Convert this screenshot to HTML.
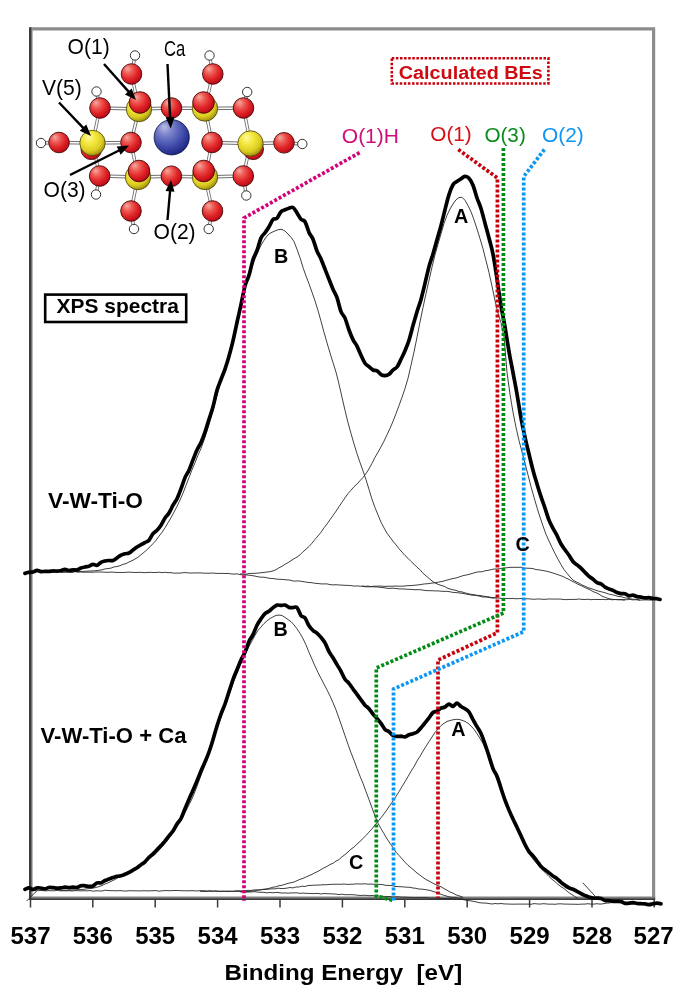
<!DOCTYPE html>
<html><head><meta charset="utf-8"><title>XPS spectra</title>
<style>
html,body{margin:0;padding:0;background:#fff;}
svg{display:block;}
text{font-family:"Liberation Sans",sans-serif;}
.b{font-weight:bold;}
.thin{fill:none;stroke:#2a2a2a;stroke-width:0.9;}
.thick{fill:none;stroke:#000;stroke-width:3.7;stroke-linejoin:round;stroke-linecap:round;}
.dot{fill:none;stroke-width:3.7;stroke-dasharray:3 2;}
</style></head><body>
<svg width="684" height="1000" viewBox="0 0 684 1000">
<rect width="684" height="1000" fill="#fff"/>
<!-- frame -->
<path d="M31,28.8 H653.6 V899" fill="none" stroke="#8c8c8c" stroke-width="3.2"/>
<line x1="31" y1="897.5" x2="655.2" y2="897.5" stroke="#808080" stroke-width="2"/>
<line x1="31.4" y1="27.2" x2="31.4" y2="899" stroke="#9a9a9a" stroke-width="2.6"/>
<line x1="30.2" y1="27.2" x2="30.2" y2="900" stroke="#3c3c3c" stroke-width="2.4"/>
<line x1="29" y1="899.1" x2="655.2" y2="899.1" stroke="#3a3a3a" stroke-width="1.9"/>
<!-- ticks -->
<g stroke="#3a3a3a" stroke-width="1.5">
<line x1="30.5" y1="899" x2="30.5" y2="907.5"/><line x1="92.8" y1="899" x2="92.8" y2="907.5"/><line x1="155.2" y1="899" x2="155.2" y2="907.5"/><line x1="217.6" y1="899" x2="217.6" y2="907.5"/><line x1="280" y1="899" x2="280" y2="907.5"/><line x1="342.4" y1="899" x2="342.4" y2="907.5"/><line x1="404.8" y1="899" x2="404.8" y2="907.5"/><line x1="467.2" y1="899" x2="467.2" y2="907.5"/><line x1="529.6" y1="899" x2="529.6" y2="907.5"/><line x1="592" y1="899" x2="592" y2="907.5"/><line x1="654.2" y1="899" x2="654.2" y2="907.5"/>
</g>
<g class="b" font-size="24" text-anchor="middle">
<text x="30.5" y="943.6">537</text><text x="92.8" y="943.6">536</text><text x="155.2" y="943.6">535</text><text x="217.6" y="943.6">534</text><text x="280" y="943.6">533</text><text x="342.4" y="943.6">532</text><text x="404.8" y="943.6">531</text><text x="467.2" y="943.6">530</text><text x="529.6" y="943.6">529</text><text x="592" y="943.6">528</text><text x="653.6" y="943.6">527</text>
</g>
<text class="b" x="224.6" y="980.3" font-size="22.2" xml:space="preserve" textLength="237.6" lengthAdjust="spacingAndGlyphs">Binding Energy  [eV]</text>
<!-- curves -->
<path class="thin" d="M30.0,571.6 L33.0,572.0 L36.0,571.6 L39.0,571.9 L42.0,572.1 L45.0,572.4 L48.0,571.9 L51.0,572.0 L54.0,572.0 L57.0,572.1 L60.0,571.8 L63.0,572.1 L66.0,571.9 L69.0,572.2 L72.0,572.3 L75.0,571.7 L78.0,572.2 L81.0,572.0 L84.0,572.2 L87.0,572.2 L90.0,572.2 L93.0,572.2 L96.0,572.0 L99.0,572.0 L102.0,572.0 L105.0,572.2 L108.0,572.3 L111.0,572.1 L114.0,572.2 L117.0,572.5 L120.0,572.4 L123.0,572.5 L126.0,572.3 L129.0,572.1 L132.0,572.3 L135.0,572.5 L138.0,572.4 L141.0,572.3 L144.0,572.7 L147.0,572.5 L150.0,572.3 L153.0,572.5 L156.0,572.5 L159.0,572.2 L162.0,572.6 L165.0,572.3 L168.0,572.7 L171.0,572.6 L174.0,573.2 L177.0,573.1 L180.0,573.1 L183.0,572.7 L186.0,572.6 L189.0,573.0 L192.0,573.0 L195.0,572.9 L198.0,572.9 L201.0,572.9 L204.0,573.2 L207.0,573.2 L210.0,573.2 L213.0,573.0 L216.0,573.4 L219.0,573.4 L222.0,573.4 L225.0,573.5 L228.0,573.4 L231.0,573.9 L234.0,574.1 L237.0,573.8 L240.0,574.6 L243.0,574.9 L246.0,574.9 L249.0,575.2 L252.0,575.6 L255.0,576.1 L258.0,576.8 L261.0,577.2 L264.0,577.2 L267.0,577.8 L270.0,578.4 L273.0,578.5 L276.0,579.0 L279.0,579.3 L282.0,579.4 L285.0,579.7 L288.0,579.9 L291.0,580.3 L294.0,581.2 L297.0,580.9 L300.0,581.1 L303.0,581.6 L306.0,582.1 L309.0,582.5 L312.0,582.7 L315.0,583.3 L318.0,583.5 L321.0,583.9 L324.0,583.9 L327.0,583.9 L330.0,584.6 L333.0,584.9 L336.0,584.7 L339.0,585.0 L342.0,585.1 L345.0,585.3 L348.0,585.4 L351.0,585.6 L354.0,586.1 L357.0,585.9 L360.0,586.2 L363.0,586.4 L366.0,586.8 L369.0,586.8 L372.0,586.7 L375.0,586.9 L378.0,587.0 L381.0,587.5 L384.0,587.7 L387.0,588.3 L390.0,588.4 L393.0,588.2 L396.0,588.5 L399.0,588.9 L402.0,588.9 L405.0,589.1 L408.0,589.3 L411.0,589.4 L414.0,589.7 L417.0,589.7 L420.0,589.7 L423.0,590.1 L426.0,590.6 L429.0,590.7 L432.0,590.7 L435.0,590.9 L438.0,590.9 L441.0,591.2 L444.0,591.4 L447.0,591.3 L450.0,591.8 L453.0,592.4 L456.0,592.6 L459.0,592.9 L462.0,593.3 L465.0,593.8 L468.0,594.4 L471.0,595.0 L474.0,595.3 L477.0,595.6 L480.0,596.3 L483.0,597.0 L486.0,597.0 L489.0,597.4 L492.0,598.0 L495.0,597.9 L498.0,597.9 L501.0,598.4 L504.0,598.3 L507.0,598.5 L510.0,598.6 L513.0,598.4 L516.0,598.8 L519.0,598.6 L522.0,598.5 L525.0,598.8 L528.0,598.8 L531.0,599.0 L534.0,599.3 L537.0,599.0 L540.0,599.0 L543.0,599.3 L546.0,599.3 L549.0,598.9 L552.0,599.1 L555.0,599.0 L558.0,599.1 L561.0,599.1 L564.0,599.6 L567.0,599.6 L570.0,599.4 L573.0,599.4 L576.0,599.4 L579.0,599.0 L582.0,599.4 L585.0,599.5 L588.0,599.2 L591.0,599.7 L594.0,599.4 L597.0,599.5 L600.0,599.5 L603.0,599.4 L606.0,599.7 L609.0,599.2 L612.0,599.8 L615.0,599.5 L618.0,599.8 L621.0,599.5 L624.0,599.7 L627.0,599.7 L630.0,599.4 L633.0,599.9 L636.0,599.7 L639.0,600.2 L642.0,600.0 L645.0,599.9 L648.0,600.0 L651.0,600.1 L653.0,599.9"/>
<path class="thin" d="M60.0,572.2 L63.0,572.1 L66.0,572.2 L69.0,571.8 L72.0,572.3 L75.0,571.4 L78.0,571.5 L81.0,571.6 L84.0,571.3 L87.0,571.2 L90.0,571.0 L93.0,570.9 L96.0,570.7 L99.0,570.3 L102.0,569.8 L105.0,568.9 L108.0,568.6 L111.0,568.1 L114.0,566.9 L117.0,566.5 L120.0,565.7 L123.0,564.3 L126.0,563.6 L129.0,562.0 L132.0,560.7 L135.0,559.0 L138.0,557.3 L141.0,554.7 L144.0,552.3 L147.0,549.7 L150.0,546.8 L153.0,543.6 L156.0,540.3 L159.0,536.2 L162.0,532.3 L165.0,527.8 L168.0,522.8 L171.0,517.7 L174.0,512.1 L177.0,506.3 L180.0,500.0 L183.0,493.2 L186.0,485.3 L189.0,477.6 L192.0,469.8 L195.0,462.8 L198.0,455.2 L201.0,448.5 L204.0,440.1 L207.0,431.0 L210.0,420.6 L213.0,410.1 L216.0,398.9 L219.0,388.2 L222.0,378.2 L225.0,369.3 L228.0,359.8 L231.0,348.9 L234.0,336.6 L237.0,322.8 L240.0,309.0 L243.0,296.6 L246.0,286.4 L249.0,276.1 L252.0,266.8 L255.0,258.8 L258.0,251.6 L261.0,245.2 L264.0,240.3 L267.0,235.9 L270.0,233.3 L273.0,231.8 L276.0,230.5 L279.0,229.5 L282.0,229.4 L285.0,231.1 L288.0,234.0 L291.0,237.3 L294.0,241.5 L297.0,249.3 L300.0,257.7 L303.0,267.5 L306.0,276.0 L309.0,283.8 L312.0,292.2 L315.0,300.9 L318.0,310.5 L321.0,321.2 L324.0,332.3 L327.0,342.8 L330.0,352.9 L333.0,362.6 L336.0,372.1 L339.0,384.1 L342.0,397.3 L345.0,410.3 L348.0,422.6 L351.0,433.5 L354.0,443.9 L357.0,453.7 L360.0,462.5 L363.0,470.8 L366.0,479.7 L369.0,489.4 L372.0,499.3 L375.0,507.6 L378.0,514.9 L381.0,522.2 L384.0,527.9 L387.0,533.2 L390.0,537.2 L393.0,541.3 L396.0,544.9 L399.0,548.8 L402.0,552.1 L405.0,555.5 L408.0,558.3 L411.0,561.4 L414.0,564.2 L417.0,567.2 L420.0,569.8 L423.0,573.2 L426.0,575.9 L429.0,578.4 L432.0,581.0 L435.0,582.9 L438.0,584.3 L441.0,585.4 L444.0,586.2 L447.0,588.0 L450.0,589.0 L453.0,589.8 L456.0,590.4 L459.0,591.6 L462.0,591.9 L465.0,592.9 L468.0,593.7 L471.0,594.3 L474.0,594.7 L477.0,595.3 L480.0,595.5 L483.0,596.1 L486.0,596.6 L489.0,596.9 L492.0,597.7 L495.0,597.7 L497.0,598.0"/>
<path class="thin" d="M240.0,573.9 L243.0,574.0 L246.0,574.2 L249.0,573.5 L252.0,573.4 L255.0,573.3 L258.0,573.1 L261.0,572.7 L264.0,572.4 L267.0,572.0 L270.0,571.7 L273.0,570.9 L276.0,569.7 L279.0,567.8 L282.0,566.3 L285.0,564.3 L288.0,562.6 L291.0,560.7 L294.0,558.7 L297.0,557.1 L300.0,554.8 L303.0,551.8 L306.0,549.2 L309.0,546.5 L312.0,543.2 L315.0,539.4 L318.0,535.9 L321.0,532.3 L324.0,527.9 L327.0,524.0 L330.0,519.7 L333.0,515.5 L336.0,511.2 L339.0,506.7 L342.0,502.2 L345.0,497.8 L348.0,493.6 L351.0,490.2 L354.0,486.7 L357.0,484.1 L360.0,480.7 L363.0,477.5 L366.0,473.5 L369.0,468.8 L372.0,463.3 L375.0,457.4 L378.0,452.2 L381.0,446.9 L384.0,441.1 L387.0,434.8 L390.0,428.4 L393.0,421.3 L396.0,413.7 L399.0,405.6 L402.0,397.3 L405.0,388.5 L408.0,378.3 L411.0,365.3 L414.0,352.0 L417.0,337.3 L420.0,322.1 L423.0,307.5 L426.0,293.6 L429.0,280.3 L432.0,267.0 L435.0,254.8 L438.0,244.1 L441.0,233.8 L444.0,223.5 L447.0,215.3 L450.0,209.0 L453.0,204.0 L456.0,199.8 L459.0,197.5 L462.0,197.3 L465.0,200.3 L468.0,205.6 L471.0,211.7 L474.0,219.8 L477.0,229.0 L480.0,238.6 L483.0,248.8 L486.0,260.7 L489.0,272.5 L492.0,286.1 L495.0,300.5 L498.0,313.2 L501.0,322.7 L504.0,336.9 L507.0,372.4 L510.0,394.2 L513.0,412.3 L516.0,427.3 L519.0,440.5 L522.0,451.9 L525.0,463.4 L528.0,474.9 L531.0,486.6 L534.0,497.3 L537.0,507.6 L540.0,517.1 L543.0,526.0 L546.0,534.3 L549.0,541.0 L552.0,547.3 L555.0,553.5 L558.0,559.2 L561.0,564.6 L564.0,569.5 L567.0,573.3 L570.0,577.0 L573.0,580.0 L576.0,581.8 L579.0,583.1 L582.0,585.1 L585.0,586.2 L588.0,587.7 L591.0,588.5 L594.0,589.6 L597.0,590.7 L600.0,591.5 L603.0,592.2 L606.0,593.0 L609.0,594.2 L612.0,594.7 L615.0,595.4 L618.0,596.4 L621.0,596.6 L624.0,597.7 L627.0,598.2 L630.0,598.8 L633.0,599.2 L636.0,599.5 L639.0,599.6 L640.0,600.2"/>
<path class="thin" d="M362.0,586.0 L365.0,586.3 L368.0,586.1 L371.0,586.6 L374.0,586.2 L377.0,586.2 L380.0,586.0 L383.0,586.3 L386.0,586.4 L389.0,586.2 L392.0,586.3 L395.0,586.0 L398.0,586.2 L401.0,586.2 L404.0,586.1 L407.0,585.7 L410.0,585.6 L413.0,585.4 L416.0,585.1 L419.0,584.8 L422.0,584.3 L425.0,583.9 L428.0,583.7 L431.0,583.2 L434.0,582.9 L437.0,582.4 L440.0,581.8 L443.0,581.3 L446.0,580.3 L449.0,579.6 L452.0,578.7 L455.0,578.2 L458.0,577.4 L461.0,576.3 L464.0,575.4 L467.0,574.9 L470.0,574.1 L473.0,573.2 L476.0,572.3 L479.0,571.8 L482.0,571.8 L485.0,570.8 L488.0,570.4 L491.0,569.7 L494.0,569.0 L497.0,569.0 L500.0,568.7 L503.0,568.0 L506.0,567.8 L509.0,567.5 L512.0,567.3 L515.0,567.3 L518.0,567.4 L521.0,567.2 L524.0,568.1 L527.0,568.2 L530.0,568.3 L533.0,568.6 L536.0,569.6 L539.0,569.8 L542.0,570.4 L545.0,570.9 L548.0,571.6 L551.0,572.4 L554.0,573.4 L557.0,574.4 L560.0,575.4 L563.0,576.5 L566.0,578.1 L569.0,579.4 L572.0,581.1 L575.0,582.6 L578.0,584.3 L581.0,585.5 L584.0,587.1 L587.0,588.5 L590.0,589.7 L593.0,591.6 L596.0,592.7 L599.0,594.1 L602.0,596.2 L605.0,597.3 L608.0,598.4 L611.0,599.2 L614.0,599.5 L617.0,599.5 L620.0,599.7 L623.0,600.0 L625.0,600.0"/>
<path class="thick" d="M25.0,573.4 C25.7,573.2 27.7,572.6 29.0,572.3 C30.3,572.1 31.7,572.3 33.0,572.0 C34.3,571.7 35.7,570.5 37.0,570.4 C38.3,570.3 39.7,571.4 41.0,571.6 C42.3,571.7 43.7,571.4 45.0,571.4 C46.3,571.4 47.7,571.5 49.0,571.4 C50.3,571.4 51.7,570.9 53.0,570.9 C54.3,570.8 55.7,571.2 57.0,571.1 C58.3,571.1 59.7,570.8 61.0,570.6 C62.3,570.3 63.7,569.5 65.0,569.4 C66.3,569.4 67.7,570.5 69.0,570.5 C70.3,570.6 71.7,569.9 73.0,569.8 C74.3,569.7 75.7,570.2 77.0,569.9 C78.3,569.6 79.7,568.5 81.0,568.0 C82.3,567.5 83.7,567.3 85.0,567.0 C86.3,566.7 87.7,566.6 89.0,566.2 C90.3,565.7 91.7,564.5 93.0,564.4 C94.3,564.2 95.7,565.6 97.0,565.3 C98.3,564.9 99.7,563.1 101.0,562.3 C102.3,561.6 103.7,561.3 105.0,561.0 C106.3,560.7 107.7,560.6 109.0,560.5 C110.3,560.4 111.7,560.9 113.0,560.5 C114.3,560.0 115.7,558.8 117.0,557.9 C118.3,557.0 119.7,555.9 121.0,555.2 C122.3,554.5 123.7,554.2 125.0,553.8 C126.3,553.4 127.7,553.6 129.0,553.0 C130.3,552.3 131.7,551.0 133.0,550.0 C134.3,549.0 135.7,547.9 137.0,547.0 C138.3,546.1 139.7,545.4 141.0,544.7 C142.3,543.9 143.7,543.2 145.0,542.5 C146.3,541.7 147.7,541.7 149.0,540.2 C150.3,538.8 151.7,535.4 153.0,533.7 C154.3,532.1 155.7,531.6 157.0,530.2 C158.3,528.8 159.7,527.2 161.0,525.2 C162.3,523.2 163.7,520.1 165.0,518.0 C166.3,516.0 167.7,515.2 169.0,513.0 C170.3,510.9 171.7,507.6 173.0,505.2 C174.3,502.8 175.7,501.5 177.0,498.8 C178.3,496.0 179.7,492.2 181.0,488.7 C182.3,485.2 183.7,480.7 185.0,477.6 C186.3,474.5 187.7,473.1 189.0,470.2 C190.3,467.2 191.7,463.2 193.0,459.8 C194.3,456.4 195.7,452.8 197.0,449.9 C198.3,447.0 199.7,445.4 201.0,442.5 C202.3,439.5 203.7,436.0 205.0,432.1 C206.3,428.3 207.7,423.6 209.0,419.4 C210.3,415.2 211.7,411.6 213.0,406.8 C214.3,401.9 215.7,394.8 217.0,390.3 C218.3,385.7 219.7,383.1 221.0,379.5 C222.3,376.0 223.7,373.0 225.0,369.1 C226.3,365.2 227.7,360.9 229.0,356.2 C230.3,351.5 231.7,346.5 233.0,340.9 C234.3,335.3 235.7,328.6 237.0,322.5 C238.3,316.5 239.7,310.8 241.0,304.7 C242.3,298.6 243.7,290.8 245.0,285.9 C246.3,281.0 247.7,279.7 249.0,275.3 C250.3,271.0 251.7,263.9 253.0,259.8 C254.3,255.6 255.7,254.1 257.0,250.4 C258.3,246.8 259.7,240.8 261.0,237.9 C262.3,235.0 263.7,234.7 265.0,232.8 C266.3,230.9 267.7,228.9 269.0,226.7 C270.3,224.5 271.7,220.9 273.0,219.5 C274.3,218.1 275.7,219.6 277.0,218.3 C278.3,217.0 279.7,213.1 281.0,211.7 C282.3,210.2 283.7,210.4 285.0,209.8 C286.3,209.3 287.7,208.6 289.0,208.2 C290.3,207.8 291.7,206.7 293.0,207.5 C294.3,208.3 295.7,210.9 297.0,212.9 C298.3,214.9 299.7,217.8 301.0,219.3 C302.3,220.7 303.7,219.5 305.0,221.7 C306.3,223.9 307.7,229.4 309.0,232.4 C310.3,235.3 311.7,236.1 313.0,239.2 C314.3,242.3 315.7,247.8 317.0,251.1 C318.3,254.4 319.7,255.9 321.0,258.9 C322.3,261.9 323.7,265.7 325.0,269.1 C326.3,272.5 327.7,276.0 329.0,279.3 C330.3,282.7 331.7,286.2 333.0,289.2 C334.3,292.3 335.7,293.9 337.0,297.6 C338.3,301.4 339.7,308.2 341.0,311.6 C342.3,315.0 343.7,315.0 345.0,318.1 C346.3,321.1 347.7,326.4 349.0,330.0 C350.3,333.6 351.7,336.9 353.0,339.6 C354.3,342.3 355.7,343.5 357.0,346.1 C358.3,348.7 359.7,352.4 361.0,355.2 C362.3,358.1 363.7,361.3 365.0,363.2 C366.3,365.1 367.7,365.6 369.0,366.7 C370.3,367.9 371.7,369.4 373.0,370.0 C374.3,370.7 375.7,370.0 377.0,370.8 C378.3,371.5 379.7,373.7 381.0,374.6 C382.3,375.4 383.7,375.7 385.0,375.7 C386.3,375.6 387.7,375.2 389.0,374.3 C390.3,373.3 391.7,371.2 393.0,370.0 C394.3,368.8 395.7,368.8 397.0,367.0 C398.3,365.3 399.7,362.0 401.0,359.3 C402.3,356.6 403.7,353.9 405.0,350.7 C406.3,347.5 407.7,344.4 409.0,340.2 C410.3,336.0 411.7,330.4 413.0,325.6 C414.3,320.9 415.7,316.1 417.0,311.7 C418.3,307.4 419.7,304.2 421.0,299.4 C422.3,294.7 423.7,288.9 425.0,283.4 C426.3,277.9 427.7,271.5 429.0,266.6 C430.3,261.7 431.7,258.4 433.0,254.0 C434.3,249.5 435.7,244.4 437.0,239.7 C438.3,235.0 439.7,230.7 441.0,225.7 C442.3,220.7 443.7,214.9 445.0,209.7 C446.3,204.5 447.7,198.7 449.0,194.6 C450.3,190.4 451.7,186.9 453.0,184.7 C454.3,182.5 455.7,182.4 457.0,181.4 C458.3,180.4 459.7,179.6 461.0,178.8 C462.3,177.9 463.7,176.4 465.0,176.3 C466.3,176.2 467.7,176.7 469.0,178.2 C470.3,179.6 471.7,182.0 473.0,185.3 C474.3,188.6 475.7,194.1 477.0,198.0 C478.3,201.8 479.7,204.3 481.0,208.5 C482.3,212.7 483.7,218.3 485.0,223.2 C486.3,228.1 487.7,232.8 489.0,238.0 C490.3,243.1 491.7,247.3 493.0,254.1 C494.3,261.0 495.7,270.3 497.0,278.9 C498.3,287.5 499.7,297.6 501.0,305.6 C502.3,313.6 503.7,319.3 505.0,326.9 C506.3,334.6 507.7,344.0 509.0,351.6 C510.3,359.2 511.7,365.5 513.0,372.6 C514.3,379.7 515.7,386.5 517.0,394.1 C518.3,401.7 519.7,410.8 521.0,418.0 C522.3,425.2 523.7,431.3 525.0,437.3 C526.3,443.3 527.7,448.5 529.0,454.0 C530.3,459.5 531.7,465.3 533.0,470.3 C534.3,475.3 535.7,479.5 537.0,483.9 C538.3,488.3 539.7,492.6 541.0,496.6 C542.3,500.7 543.7,504.2 545.0,508.1 C546.3,512.1 547.7,516.8 549.0,520.1 C550.3,523.5 551.7,525.8 553.0,528.3 C554.3,530.9 555.7,532.9 557.0,535.5 C558.3,538.2 559.7,541.7 561.0,544.0 C562.3,546.4 563.7,547.8 565.0,549.7 C566.3,551.6 567.7,553.4 569.0,555.3 C570.3,557.3 571.7,559.9 573.0,561.5 C574.3,563.1 575.7,563.8 577.0,564.9 C578.3,566.0 579.7,566.9 581.0,568.1 C582.3,569.4 583.7,571.0 585.0,572.4 C586.3,573.7 587.7,575.2 589.0,576.3 C590.3,577.5 591.7,578.1 593.0,579.2 C594.3,580.3 595.7,581.9 597.0,582.7 C598.3,583.5 599.7,583.1 601.0,583.8 C602.3,584.5 603.7,586.3 605.0,587.1 C606.3,588.0 607.7,588.5 609.0,589.0 C610.3,589.5 611.7,589.8 613.0,590.4 C614.3,591.0 615.7,592.1 617.0,592.6 C618.3,593.1 619.7,593.4 621.0,593.6 C622.3,593.8 623.7,593.4 625.0,593.7 C626.3,594.1 627.7,595.6 629.0,595.9 C630.3,596.1 631.7,595.0 633.0,595.2 C634.3,595.3 635.7,596.3 637.0,596.6 C638.3,596.9 639.7,596.9 641.0,597.1 C642.3,597.3 643.7,597.8 645.0,597.9 C646.3,598.0 647.7,597.6 649.0,597.7 C650.3,597.8 651.7,598.3 653.0,598.5 C654.3,598.7 655.8,598.6 657.0,598.7 C658.2,598.9 659.5,599.4 660.0,599.5"/>
<path class="thin" d="M30.0,891.0 L33.0,890.6 L36.0,890.7 L39.0,890.6 L42.0,890.5 L45.0,890.8 L48.0,890.7 L51.0,890.7 L54.0,890.8 L57.0,890.4 L60.0,890.8 L63.0,890.8 L66.0,890.8 L69.0,890.7 L72.0,891.0 L75.0,890.6 L78.0,890.7 L81.0,890.9 L84.0,890.7 L87.0,890.9 L90.0,890.5 L93.0,891.2 L96.0,890.8 L99.0,890.9 L102.0,891.0 L105.0,890.2 L108.0,890.5 L111.0,890.7 L114.0,890.7 L117.0,890.8 L120.0,890.6 L123.0,890.9 L126.0,891.1 L129.0,890.7 L132.0,890.8 L135.0,890.8 L138.0,890.9 L141.0,890.9 L144.0,890.7 L147.0,890.9 L150.0,890.8 L153.0,890.7 L156.0,890.6 L159.0,891.2 L162.0,890.8 L165.0,890.6 L168.0,890.6 L171.0,890.7 L174.0,890.5 L177.0,890.5 L180.0,890.6 L183.0,890.8 L186.0,890.8 L189.0,890.8 L192.0,890.6 L195.0,890.9 L198.0,890.9 L201.0,890.7 L204.0,890.7 L207.0,891.0 L210.0,890.7 L213.0,891.1 L216.0,890.9 L219.0,891.2 L222.0,891.1 L225.0,891.3 L228.0,891.6 L231.0,891.4 L234.0,891.4 L237.0,891.4 L240.0,891.5 L243.0,891.8 L246.0,892.1 L249.0,892.0 L252.0,891.9 L255.0,891.7 L258.0,892.2 L261.0,892.3 L264.0,892.3 L267.0,892.9 L270.0,892.4 L273.0,892.8 L276.0,892.4 L279.0,892.6 L282.0,893.1 L285.0,892.9 L288.0,893.2 L291.0,892.9 L294.0,892.9 L297.0,892.8 L300.0,893.4 L303.0,893.0 L306.0,893.4 L309.0,893.4 L312.0,893.6 L315.0,893.5 L318.0,893.4 L321.0,894.0 L324.0,893.5 L327.0,893.7 L330.0,893.8 L333.0,893.9 L336.0,894.1 L339.0,894.6 L342.0,894.2 L345.0,894.7 L348.0,894.7 L351.0,894.6 L354.0,894.8 L357.0,895.1 L360.0,895.5 L363.0,895.3 L366.0,895.3 L369.0,895.7 L372.0,895.5 L375.0,895.8 L378.0,895.8 L381.0,896.3 L384.0,896.4 L387.0,896.5 L390.0,896.5 L393.0,897.0 L396.0,896.8 L399.0,896.8 L402.0,897.2 L405.0,897.1 L408.0,897.4 L411.0,897.4 L414.0,897.8 L417.0,897.6 L420.0,897.6 L423.0,897.6 L426.0,897.6 L429.0,898.0 L432.0,898.1 L435.0,897.9 L438.0,898.4 L441.0,898.4 L444.0,898.5 L447.0,898.5 L450.0,898.5 L453.0,898.8 L456.0,899.0 L459.0,899.4 L462.0,899.4 L465.0,900.0 L468.0,900.5 L471.0,900.9 L474.0,901.5 L477.0,902.1 L480.0,902.8 L483.0,903.0 L486.0,903.1 L489.0,903.6 L492.0,904.0 L495.0,903.5 L498.0,903.8 L501.0,903.5 L504.0,903.9 L507.0,904.0 L510.0,904.1 L513.0,904.2 L516.0,904.1 L519.0,904.1 L522.0,904.1 L525.0,904.1 L528.0,904.1 L531.0,904.3 L534.0,903.6 L537.0,903.9 L540.0,904.1 L543.0,903.7 L546.0,903.9 L549.0,904.2 L552.0,904.1 L555.0,904.3 L558.0,903.9 L561.0,903.8 L564.0,904.1 L567.0,904.1 L570.0,904.2 L573.0,904.2 L576.0,904.3 L579.0,904.3 L582.0,904.1 L585.0,904.1 L588.0,903.7 L591.0,904.1 L594.0,904.1 L597.0,903.7 L600.0,904.1 L603.0,903.8 L606.0,903.2 L609.0,903.0 L612.0,902.5"/>
<path class="thin" d="M60.0,890.5 L63.0,890.2 L66.0,890.5 L69.0,890.3 L72.0,890.0 L75.0,890.0 L78.0,889.6 L81.0,889.5 L84.0,889.3 L87.0,888.8 L90.0,888.5 L93.0,888.1 L96.0,887.5 L99.0,886.6 L102.0,885.5 L105.0,884.0 L108.0,882.9 L111.0,881.4 L114.0,880.0 L117.0,878.3 L120.0,876.8 L123.0,875.7 L126.0,873.8 L129.0,872.7 L132.0,870.6 L135.0,869.1 L138.0,867.2 L141.0,865.1 L144.0,863.3 L147.0,860.8 L150.0,858.5 L153.0,855.9 L156.0,853.6 L159.0,850.1 L162.0,847.0 L165.0,843.2 L168.0,839.3 L171.0,835.4 L174.0,830.9 L177.0,826.4 L180.0,821.3 L183.0,816.0 L186.0,810.8 L189.0,804.8 L192.0,798.8 L195.0,791.5 L198.0,783.6 L201.0,775.0 L204.0,766.8 L207.0,757.5 L210.0,748.8 L213.0,739.7 L216.0,731.0 L219.0,722.9 L222.0,714.4 L225.0,706.3 L228.0,697.7 L231.0,689.7 L234.0,680.9 L237.0,673.3 L240.0,665.6 L243.0,659.3 L246.0,652.9 L249.0,646.4 L252.0,640.9 L255.0,635.3 L258.0,630.3 L261.0,627.1 L264.0,623.5 L267.0,620.8 L270.0,618.5 L273.0,616.9 L276.0,615.4 L279.0,615.1 L282.0,615.5 L285.0,617.4 L288.0,619.5 L291.0,621.7 L294.0,624.9 L297.0,628.8 L300.0,633.3 L303.0,638.6 L306.0,644.9 L309.0,652.4 L312.0,659.2 L315.0,666.1 L318.0,672.6 L321.0,678.3 L324.0,684.1 L327.0,689.9 L330.0,695.9 L333.0,702.7 L336.0,709.9 L339.0,718.3 L342.0,726.9 L345.0,735.7 L348.0,744.4 L351.0,752.8 L354.0,760.3 L357.0,768.4 L360.0,776.2 L363.0,783.4 L366.0,791.6 L369.0,799.6 L372.0,807.8 L375.0,816.0 L378.0,823.2 L381.0,828.7 L384.0,833.7 L387.0,838.8 L390.0,843.3 L393.0,847.5 L396.0,852.1 L399.0,855.4 L402.0,858.8 L405.0,862.2 L408.0,865.3 L411.0,867.8 L414.0,870.3 L417.0,873.0 L420.0,875.2 L423.0,877.4 L426.0,879.6 L429.0,881.0 L432.0,882.7 L435.0,884.4 L438.0,885.8 L441.0,886.7 L444.0,888.6 L447.0,890.2 L450.0,892.0 L453.0,893.1 L456.0,894.8 L459.0,895.8 L462.0,896.8 L463.3,897.8"/>
<path class="thin" d="M240.0,891.8 L243.0,891.9 L246.0,891.5 L249.0,891.5 L252.0,891.0 L255.0,890.8 L258.0,890.1 L261.0,889.6 L264.0,889.2 L267.0,888.8 L270.0,888.1 L273.0,887.2 L276.0,886.8 L279.0,885.7 L282.0,885.3 L285.0,884.3 L288.0,883.4 L291.0,882.7 L294.0,882.1 L297.0,880.7 L300.0,879.3 L303.0,878.4 L306.0,877.0 L309.0,875.6 L312.0,874.4 L315.0,872.7 L318.0,871.4 L321.0,869.6 L324.0,867.8 L327.0,866.4 L330.0,864.5 L333.0,863.3 L336.0,861.1 L339.0,859.6 L342.0,856.8 L345.0,854.6 L348.0,852.0 L351.0,849.1 L354.0,847.1 L357.0,844.1 L360.0,841.4 L363.0,838.5 L366.0,835.4 L369.0,832.1 L372.0,828.9 L375.0,825.0 L378.0,821.6 L381.0,817.7 L384.0,813.9 L387.0,809.7 L390.0,805.1 L393.0,800.9 L396.0,796.3 L399.0,791.7 L402.0,786.6 L405.0,781.7 L408.0,776.6 L411.0,771.3 L414.0,766.7 L417.0,761.0 L420.0,756.4 L423.0,751.1 L426.0,746.3 L429.0,741.7 L432.0,737.0 L435.0,732.4 L438.0,729.0 L441.0,725.6 L444.0,723.3 L447.0,721.5 L450.0,720.5 L453.0,719.8 L456.0,719.3 L459.0,719.4 L462.0,720.3 L465.0,721.4 L468.0,723.2 L471.0,726.0 L474.0,729.3 L477.0,733.7 L480.0,738.4 L483.0,743.6 L486.0,750.5 L489.0,758.3 L492.0,766.1 L495.0,773.9 L498.0,781.5 L501.0,789.4 L504.0,797.2 L507.0,805.3 L510.0,813.1 L513.0,820.5 L516.0,826.9 L519.0,833.7 L522.0,840.3 L525.0,846.8 L528.0,852.2 L531.0,856.3 L534.0,860.4 L537.0,863.9 L540.0,867.1 L543.0,870.4 L546.0,873.5 L549.0,876.5 L552.0,879.3 L555.0,881.6 L558.0,884.4 L561.0,886.7 L564.0,888.5 L567.0,891.2 L570.0,893.4 L573.0,895.3 L576.0,897.4 L578.0,898.0"/>
<path class="thin" d="M200.0,891.4 L203.0,891.4 L206.0,891.5 L209.0,891.2 L212.0,891.4 L215.0,891.1 L218.0,891.4 L221.0,891.5 L224.0,891.3 L227.0,891.1 L230.0,891.1 L233.0,891.2 L236.0,890.8 L239.0,890.7 L242.0,890.9 L245.0,890.7 L248.0,890.3 L251.0,890.5 L254.0,889.9 L257.0,889.9 L260.0,890.0 L263.0,889.5 L266.0,889.4 L269.0,889.1 L272.0,888.8 L275.0,888.9 L278.0,888.2 L281.0,888.5 L284.0,888.5 L287.0,888.1 L290.0,887.5 L293.0,887.9 L296.0,887.0 L299.0,887.0 L302.0,886.2 L305.0,886.5 L308.0,885.5 L311.0,885.4 L314.0,885.2 L317.0,885.1 L320.0,885.0 L323.0,884.7 L326.0,884.8 L329.0,884.5 L332.0,884.3 L335.0,884.3 L338.0,884.2 L341.0,884.3 L344.0,884.0 L347.0,884.4 L350.0,884.3 L353.0,884.2 L356.0,883.9 L359.0,883.9 L362.0,884.0 L365.0,883.8 L368.0,884.2 L371.0,884.0 L374.0,884.3 L377.0,884.2 L380.0,884.4 L383.0,884.7 L386.0,885.4 L389.0,885.4 L392.0,885.6 L395.0,886.4 L398.0,886.6 L401.0,886.7 L404.0,887.0 L407.0,887.2 L410.0,887.3 L413.0,888.0 L416.0,888.3 L419.0,889.0 L422.0,889.2 L425.0,889.5 L428.0,890.0 L431.0,890.7 L434.0,891.8 L437.0,892.7 L440.0,893.9 L443.0,895.0 L446.0,895.9 L449.0,896.8 L452.0,897.3 L455.0,897.3 L458.0,898.1 L461.0,898.3 L463.0,898.1"/>
<path class="thick" d="M25.0,889.3 C25.7,889.0 27.7,887.9 29.0,887.9 C30.3,887.9 31.7,889.4 33.0,889.4 C34.3,889.4 35.7,888.1 37.0,887.9 C38.3,887.6 39.7,887.9 41.0,888.1 C42.3,888.2 43.7,889.0 45.0,888.9 C46.3,888.8 47.7,887.7 49.0,887.5 C50.3,887.3 51.7,887.6 53.0,887.7 C54.3,887.8 55.7,888.1 57.0,888.1 C58.3,888.1 59.7,888.0 61.0,887.8 C62.3,887.7 63.7,887.3 65.0,887.2 C66.3,887.2 67.7,887.6 69.0,887.6 C70.3,887.6 71.7,887.3 73.0,887.2 C74.3,887.2 75.7,887.7 77.0,887.4 C78.3,887.2 79.7,886.0 81.0,885.7 C82.3,885.4 83.7,885.7 85.0,885.8 C86.3,885.9 87.7,886.4 89.0,886.4 C90.3,886.4 91.7,886.6 93.0,886.0 C94.3,885.4 95.7,883.5 97.0,882.9 C98.3,882.4 99.7,883.3 101.0,882.9 C102.3,882.5 103.7,881.2 105.0,880.5 C106.3,879.9 107.7,879.6 109.0,879.1 C110.3,878.6 111.7,878.0 113.0,877.5 C114.3,877.1 115.7,876.6 117.0,876.3 C118.3,876.0 119.7,876.1 121.0,875.8 C122.3,875.5 123.7,874.9 125.0,874.3 C126.3,873.8 127.7,873.1 129.0,872.4 C130.3,871.7 131.7,870.9 133.0,870.1 C134.3,869.3 135.7,868.7 137.0,867.8 C138.3,866.8 139.7,865.6 141.0,864.7 C142.3,863.7 143.7,863.1 145.0,861.9 C146.3,860.7 147.7,858.6 149.0,857.3 C150.3,856.0 151.7,855.1 153.0,853.9 C154.3,852.6 155.7,851.2 157.0,849.8 C158.3,848.4 159.7,847.0 161.0,845.5 C162.3,844.1 163.7,842.7 165.0,841.1 C166.3,839.4 167.7,837.6 169.0,835.9 C170.3,834.3 171.7,833.1 173.0,831.1 C174.3,829.2 175.7,826.1 177.0,824.0 C178.3,821.9 179.7,821.0 181.0,818.5 C182.3,815.9 183.7,811.9 185.0,808.7 C186.3,805.5 187.7,802.3 189.0,799.2 C190.3,796.1 191.7,793.3 193.0,790.3 C194.3,787.2 195.7,784.1 197.0,780.9 C198.3,777.7 199.7,774.2 201.0,771.0 C202.3,767.9 203.7,765.2 205.0,762.0 C206.3,758.8 207.7,755.8 209.0,752.0 C210.3,748.3 211.7,744.0 213.0,739.7 C214.3,735.3 215.7,730.2 217.0,726.0 C218.3,721.7 219.7,717.7 221.0,714.0 C222.3,710.4 223.7,707.7 225.0,704.0 C226.3,700.2 227.7,695.8 229.0,691.7 C230.3,687.7 231.7,683.2 233.0,679.5 C234.3,675.9 235.7,673.0 237.0,669.7 C238.3,666.4 239.7,662.8 241.0,659.9 C242.3,657.0 243.7,655.2 245.0,652.1 C246.3,649.0 247.7,644.3 249.0,641.4 C250.3,638.4 251.7,637.3 253.0,634.6 C254.3,631.9 255.7,627.9 257.0,625.2 C258.3,622.6 259.7,620.8 261.0,618.8 C262.3,616.9 263.7,614.9 265.0,613.6 C266.3,612.4 267.7,612.3 269.0,611.3 C270.3,610.4 271.7,608.7 273.0,607.7 C274.3,606.6 275.7,605.4 277.0,605.1 C278.3,604.7 279.7,605.4 281.0,605.4 C282.3,605.4 283.7,604.8 285.0,605.1 C286.3,605.5 287.7,606.9 289.0,607.4 C290.3,607.8 291.7,607.6 293.0,607.6 C294.3,607.6 295.7,606.2 297.0,607.5 C298.3,608.8 299.7,613.8 301.0,615.6 C302.3,617.3 303.7,616.2 305.0,617.9 C306.3,619.6 307.7,623.7 309.0,625.8 C310.3,627.9 311.7,629.3 313.0,630.5 C314.3,631.8 315.7,631.9 317.0,633.1 C318.3,634.2 319.7,635.8 321.0,637.4 C322.3,639.1 323.7,640.5 325.0,642.9 C326.3,645.2 327.7,649.2 329.0,651.7 C330.3,654.2 331.7,655.7 333.0,657.8 C334.3,660.0 335.7,662.3 337.0,664.6 C338.3,666.8 339.7,668.8 341.0,671.3 C342.3,673.7 343.7,677.3 345.0,679.3 C346.3,681.3 347.7,681.6 349.0,683.3 C350.3,684.9 351.7,687.2 353.0,689.0 C354.3,690.9 355.7,692.6 357.0,694.4 C358.3,696.2 359.7,698.1 361.0,699.9 C362.3,701.7 363.7,703.7 365.0,705.2 C366.3,706.6 367.7,707.2 369.0,708.7 C370.3,710.2 371.7,712.5 373.0,714.1 C374.3,715.7 375.7,716.9 377.0,718.5 C378.3,720.0 379.7,721.6 381.0,723.4 C382.3,725.2 383.7,728.0 385.0,729.4 C386.3,730.8 387.7,730.7 389.0,731.7 C390.3,732.7 391.7,734.7 393.0,735.5 C394.3,736.3 395.7,736.3 397.0,736.4 C398.3,736.5 399.7,736.2 401.0,736.2 C402.3,736.3 403.7,737.1 405.0,736.8 C406.3,736.6 407.7,735.4 409.0,734.8 C410.3,734.3 411.7,734.1 413.0,733.7 C414.3,733.2 415.7,733.1 417.0,732.1 C418.3,731.1 419.7,729.3 421.0,727.8 C422.3,726.2 423.7,724.6 425.0,722.9 C426.3,721.3 427.7,719.5 429.0,717.8 C430.3,716.0 431.7,713.6 433.0,712.5 C434.3,711.4 435.7,711.8 437.0,711.1 C438.3,710.4 439.7,708.9 441.0,708.2 C442.3,707.5 443.7,707.7 445.0,707.0 C446.3,706.3 447.7,704.2 449.0,704.1 C450.3,704.0 451.7,706.5 453.0,706.4 C454.3,706.2 455.7,703.1 457.0,703.1 C458.3,703.2 459.7,705.7 461.0,706.6 C462.3,707.5 463.7,707.8 465.0,708.7 C466.3,709.6 467.7,710.2 469.0,712.0 C470.3,713.8 471.7,717.1 473.0,719.6 C474.3,722.0 475.7,724.4 477.0,726.7 C478.3,729.0 479.7,730.5 481.0,733.4 C482.3,736.3 483.7,740.2 485.0,744.0 C486.3,747.8 487.7,752.0 489.0,756.1 C490.3,760.2 491.7,765.2 493.0,768.6 C494.3,772.0 495.7,773.0 497.0,776.3 C498.3,779.6 499.7,784.2 501.0,788.2 C502.3,792.2 503.7,796.5 505.0,800.2 C506.3,803.8 507.7,806.9 509.0,810.1 C510.3,813.2 511.7,816.2 513.0,819.0 C514.3,821.9 515.7,824.5 517.0,827.3 C518.3,830.1 519.7,832.9 521.0,835.8 C522.3,838.6 523.7,841.8 525.0,844.5 C526.3,847.1 527.7,849.7 529.0,851.6 C530.3,853.5 531.7,854.3 533.0,855.9 C534.3,857.4 535.7,859.2 537.0,861.0 C538.3,862.7 539.7,865.0 541.0,866.4 C542.3,867.9 543.7,868.6 545.0,869.7 C546.3,870.7 547.7,871.7 549.0,872.8 C550.3,873.9 551.7,875.1 553.0,876.1 C554.3,877.0 555.7,877.6 557.0,878.6 C558.3,879.7 559.7,881.2 561.0,882.3 C562.3,883.4 563.7,884.4 565.0,885.3 C566.3,886.2 567.7,887.2 569.0,887.9 C570.3,888.6 571.7,888.7 573.0,889.3 C574.3,889.9 575.7,890.6 577.0,891.3 C578.3,892.0 579.7,892.9 581.0,893.6 C582.3,894.3 583.7,894.9 585.0,895.5 C586.3,896.0 587.7,896.4 589.0,896.9 C590.3,897.3 591.7,897.8 593.0,898.0 C594.3,898.1 595.7,897.9 597.0,898.0 C598.3,898.1 599.7,898.0 601.0,898.4 C602.3,898.8 603.7,900.1 605.0,900.5 C606.3,900.9 607.7,900.5 609.0,900.7 C610.3,900.8 611.7,901.2 613.0,901.3 C614.3,901.4 615.7,901.3 617.0,901.4 C618.3,901.4 619.7,901.3 621.0,901.6 C622.3,902.0 623.7,903.1 625.0,903.4 C626.3,903.6 627.7,903.3 629.0,903.2 C630.3,903.1 631.7,902.6 633.0,902.6 C634.3,902.7 635.7,903.3 637.0,903.5 C638.3,903.6 639.7,903.5 641.0,903.6 C642.3,903.6 643.7,903.6 645.0,903.8 C646.3,904.0 647.7,904.7 649.0,904.7 C650.3,904.7 651.7,904.0 653.0,903.7 C654.3,903.5 655.7,903.2 657.0,903.2 C658.3,903.2 660.3,903.7 661.0,903.8"/>
<line class="thin" x1="26.7" y1="901" x2="37" y2="890.7"/>
<line class="thin" x1="582.8" y1="882.8" x2="595" y2="896"/>
<!-- dotted calc lines -->
<path class="dot" stroke="#d4007a" d="M359.6,152.6 L244,218 L244,901"/>
<path class="dot" stroke="#c8000c" d="M458.3,149.5 L497.4,178 L497.4,632.7 L438,660 L438,898"/>
<path class="dot" stroke="#008c14" d="M503.4,148 L503.4,613 L376.3,668 L376.3,896 L393.5,900.5"/>
<path class="dot" stroke="#0a96f5" d="M544.4,149.5 L523.7,176.5 L523.7,631.7 L393.5,689 L393.5,902"/>
<!-- labels -->
<text x="341.8" y="143.4" font-size="21" fill="#cc0f7a">O(1)H</text>
<text x="430.3" y="140.6" font-size="20.7" fill="#d60f14">O(1)</text>
<text x="484.4" y="141.6" font-size="20.7" fill="#0a8c1e">O(3)</text>
<text x="542" y="141.6" font-size="20.9" fill="#0f96f0">O(2)</text>
<rect x="391.8" y="58.3" width="156.6" height="25.2" fill="none" stroke="#c8000c" stroke-width="2.6" stroke-dasharray="2.5 1.6"/>
<text class="b" x="398.8" y="78.8" font-size="18.9" fill="#cc0a10" textLength="144" lengthAdjust="spacingAndGlyphs">Calculated BEs</text>
<rect x="45.2" y="294.6" width="141" height="27.4" fill="#fff" stroke="#000" stroke-width="2.6"/>
<text class="b" x="56.6" y="312.5" font-size="19.3" textLength="122.3" lengthAdjust="spacingAndGlyphs">XPS spectra</text>
<text class="b" x="48" y="508" font-size="22.7">V-W-Ti-O</text>
<text class="b" x="40.6" y="743.4" font-size="22.1">V-W-Ti-O + Ca</text>
<text class="b" x="274" y="263" font-size="19.8">B</text>
<text class="b" x="454" y="223.4" font-size="19.8">A</text>
<text class="b" x="515.5" y="551.3" font-size="19.8">C</text>
<text class="b" x="273.5" y="636.3" font-size="19.8">B</text>
<text class="b" x="451.3" y="736.4" font-size="19.8">A</text>
<text class="b" x="349" y="868.5" font-size="19.8">C</text>
<!-- molecule -->
<defs>
<radialGradient id="gr" cx="0.4" cy="0.36" r="0.7" fx="0.3" fy="0.24"><stop offset="0" stop-color="#f6aaa2"/><stop offset="0.3" stop-color="#ee5e58"/><stop offset="0.62" stop-color="#e02628"/><stop offset="0.9" stop-color="#c00c18"/><stop offset="1" stop-color="#8a0610"/></radialGradient>
<radialGradient id="gy" cx="0.42" cy="0.36" r="0.7" fx="0.34" fy="0.26"><stop offset="0" stop-color="#fdfaa0"/><stop offset="0.35" stop-color="#f4e840"/><stop offset="0.7" stop-color="#dccc20"/><stop offset="0.93" stop-color="#a09010"/><stop offset="1" stop-color="#605608"/></radialGradient>
<radialGradient id="gb" cx="0.4" cy="0.34" r="0.72" fx="0.28" fy="0.2"><stop offset="0" stop-color="#b8bce6"/><stop offset="0.3" stop-color="#7880c8"/><stop offset="0.62" stop-color="#4652ae"/><stop offset="0.9" stop-color="#222c8c"/><stop offset="1" stop-color="#101868"/></radialGradient>
</defs>
<g id="mol">
<g stroke-linecap="butt">
<line x1="135" y1="55.5" x2="131.5" y2="74" stroke="#6e6e6e" stroke-width="3.4"/>
<line x1="209.5" y1="55.5" x2="212.8" y2="74" stroke="#6e6e6e" stroke-width="3.4"/>
<line x1="131.5" y1="74" x2="139" y2="109" stroke="#6e6e6e" stroke-width="3.4"/>
<line x1="212.8" y1="74" x2="205" y2="108.5" stroke="#6e6e6e" stroke-width="3.4"/>
<line x1="100" y1="108" x2="139" y2="109" stroke="#6e6e6e" stroke-width="3.4"/>
<line x1="139" y1="109" x2="171.5" y2="108" stroke="#6e6e6e" stroke-width="3.4"/>
<line x1="171.5" y1="108" x2="205" y2="108.5" stroke="#6e6e6e" stroke-width="3.4"/>
<line x1="205" y1="108.5" x2="243.5" y2="108" stroke="#6e6e6e" stroke-width="3.4"/>
<line x1="96.5" y1="91.5" x2="100" y2="108" stroke="#6e6e6e" stroke-width="3.4"/>
<line x1="247.2" y1="92" x2="243.5" y2="108" stroke="#6e6e6e" stroke-width="3.4"/>
<line x1="100" y1="108" x2="92.5" y2="143" stroke="#6e6e6e" stroke-width="3.4"/>
<line x1="243.5" y1="108" x2="250.5" y2="143.5" stroke="#6e6e6e" stroke-width="3.4"/>
<line x1="139" y1="109" x2="131" y2="142.5" stroke="#6e6e6e" stroke-width="3.4"/>
<line x1="205" y1="108.5" x2="212" y2="142.5" stroke="#6e6e6e" stroke-width="3.4"/>
<line x1="41" y1="143" x2="59" y2="142.5" stroke="#6e6e6e" stroke-width="3.4"/>
<line x1="59" y1="142.5" x2="92.5" y2="143" stroke="#6e6e6e" stroke-width="3.4"/>
<line x1="92.5" y1="143" x2="131" y2="142.5" stroke="#6e6e6e" stroke-width="3.4"/>
<line x1="212" y1="142.5" x2="250.5" y2="143.5" stroke="#6e6e6e" stroke-width="3.4"/>
<line x1="250.5" y1="143.5" x2="284" y2="142.8" stroke="#6e6e6e" stroke-width="3.4"/>
<line x1="284" y1="142.8" x2="302.3" y2="144" stroke="#6e6e6e" stroke-width="3.4"/>
<line x1="92.5" y1="143" x2="99.7" y2="176" stroke="#6e6e6e" stroke-width="3.4"/>
<line x1="250.5" y1="143.5" x2="243.3" y2="176" stroke="#6e6e6e" stroke-width="3.4"/>
<line x1="131" y1="142.5" x2="138" y2="177" stroke="#6e6e6e" stroke-width="3.4"/>
<line x1="212" y1="142.5" x2="205" y2="177" stroke="#6e6e6e" stroke-width="3.4"/>
<line x1="99.7" y1="176" x2="138" y2="177" stroke="#6e6e6e" stroke-width="3.4"/>
<line x1="138" y1="177" x2="171.4" y2="176.2" stroke="#6e6e6e" stroke-width="3.4"/>
<line x1="171.4" y1="176.2" x2="205" y2="177" stroke="#6e6e6e" stroke-width="3.4"/>
<line x1="205" y1="177" x2="243.3" y2="176" stroke="#6e6e6e" stroke-width="3.4"/>
<line x1="99.7" y1="176" x2="96" y2="194.5" stroke="#6e6e6e" stroke-width="3.4"/>
<line x1="243.3" y1="176" x2="246.3" y2="195.5" stroke="#6e6e6e" stroke-width="3.4"/>
<line x1="138" y1="177" x2="131" y2="211" stroke="#6e6e6e" stroke-width="3.4"/>
<line x1="131" y1="211" x2="134" y2="229" stroke="#6e6e6e" stroke-width="3.4"/>
<line x1="205" y1="177" x2="212.5" y2="211" stroke="#6e6e6e" stroke-width="3.4"/>
<line x1="212.5" y1="211" x2="208.7" y2="229" stroke="#6e6e6e" stroke-width="3.4"/>
<line x1="135" y1="55.5" x2="131.5" y2="74" stroke="#fff" stroke-width="1.6"/>
<line x1="209.5" y1="55.5" x2="212.8" y2="74" stroke="#fff" stroke-width="1.6"/>
<line x1="131.5" y1="74" x2="139" y2="109" stroke="#fff" stroke-width="1.6"/>
<line x1="212.8" y1="74" x2="205" y2="108.5" stroke="#fff" stroke-width="1.6"/>
<line x1="100" y1="108" x2="139" y2="109" stroke="#fff" stroke-width="1.6"/>
<line x1="139" y1="109" x2="171.5" y2="108" stroke="#fff" stroke-width="1.6"/>
<line x1="171.5" y1="108" x2="205" y2="108.5" stroke="#fff" stroke-width="1.6"/>
<line x1="205" y1="108.5" x2="243.5" y2="108" stroke="#fff" stroke-width="1.6"/>
<line x1="96.5" y1="91.5" x2="100" y2="108" stroke="#fff" stroke-width="1.6"/>
<line x1="247.2" y1="92" x2="243.5" y2="108" stroke="#fff" stroke-width="1.6"/>
<line x1="100" y1="108" x2="92.5" y2="143" stroke="#fff" stroke-width="1.6"/>
<line x1="243.5" y1="108" x2="250.5" y2="143.5" stroke="#fff" stroke-width="1.6"/>
<line x1="139" y1="109" x2="131" y2="142.5" stroke="#fff" stroke-width="1.6"/>
<line x1="205" y1="108.5" x2="212" y2="142.5" stroke="#fff" stroke-width="1.6"/>
<line x1="41" y1="143" x2="59" y2="142.5" stroke="#fff" stroke-width="1.6"/>
<line x1="59" y1="142.5" x2="92.5" y2="143" stroke="#fff" stroke-width="1.6"/>
<line x1="92.5" y1="143" x2="131" y2="142.5" stroke="#fff" stroke-width="1.6"/>
<line x1="212" y1="142.5" x2="250.5" y2="143.5" stroke="#fff" stroke-width="1.6"/>
<line x1="250.5" y1="143.5" x2="284" y2="142.8" stroke="#fff" stroke-width="1.6"/>
<line x1="284" y1="142.8" x2="302.3" y2="144" stroke="#fff" stroke-width="1.6"/>
<line x1="92.5" y1="143" x2="99.7" y2="176" stroke="#fff" stroke-width="1.6"/>
<line x1="250.5" y1="143.5" x2="243.3" y2="176" stroke="#fff" stroke-width="1.6"/>
<line x1="131" y1="142.5" x2="138" y2="177" stroke="#fff" stroke-width="1.6"/>
<line x1="212" y1="142.5" x2="205" y2="177" stroke="#fff" stroke-width="1.6"/>
<line x1="99.7" y1="176" x2="138" y2="177" stroke="#fff" stroke-width="1.6"/>
<line x1="138" y1="177" x2="171.4" y2="176.2" stroke="#fff" stroke-width="1.6"/>
<line x1="171.4" y1="176.2" x2="205" y2="177" stroke="#fff" stroke-width="1.6"/>
<line x1="205" y1="177" x2="243.3" y2="176" stroke="#fff" stroke-width="1.6"/>
<line x1="99.7" y1="176" x2="96" y2="194.5" stroke="#fff" stroke-width="1.6"/>
<line x1="243.3" y1="176" x2="246.3" y2="195.5" stroke="#fff" stroke-width="1.6"/>
<line x1="138" y1="177" x2="131" y2="211" stroke="#fff" stroke-width="1.6"/>
<line x1="131" y1="211" x2="134" y2="229" stroke="#fff" stroke-width="1.6"/>
<line x1="205" y1="177" x2="212.5" y2="211" stroke="#fff" stroke-width="1.6"/>
<line x1="212.5" y1="211" x2="208.7" y2="229" stroke="#fff" stroke-width="1.6"/>
</g>
<circle cx="91.3" cy="149.3" r="10.3" fill="url(#gr)" stroke="#4a0808" stroke-width="0.9"/>
<circle cx="253.2" cy="149.3" r="10.3" fill="url(#gr)" stroke="#4a0808" stroke-width="0.9"/>
<circle cx="135" cy="55.5" r="4.7" fill="#fff" stroke="#333" stroke-width="1"/>
<circle cx="209.5" cy="55.5" r="4.7" fill="#fff" stroke="#333" stroke-width="1"/>
<circle cx="96.5" cy="91.5" r="4.7" fill="#fff" stroke="#333" stroke-width="1"/>
<circle cx="247.2" cy="92" r="4.7" fill="#fff" stroke="#333" stroke-width="1"/>
<circle cx="41" cy="143" r="4.7" fill="#fff" stroke="#333" stroke-width="1"/>
<circle cx="302.3" cy="144" r="4.7" fill="#fff" stroke="#333" stroke-width="1"/>
<circle cx="96" cy="194.5" r="4.7" fill="#fff" stroke="#333" stroke-width="1"/>
<circle cx="246.3" cy="195.5" r="4.7" fill="#fff" stroke="#333" stroke-width="1"/>
<circle cx="134" cy="229" r="4.7" fill="#fff" stroke="#333" stroke-width="1"/>
<circle cx="208.7" cy="229" r="4.7" fill="#fff" stroke="#333" stroke-width="1"/>
<circle cx="131.5" cy="74" r="10.3" fill="url(#gr)" stroke="#4a0808" stroke-width="0.9"/>
<circle cx="212.8" cy="74" r="10.3" fill="url(#gr)" stroke="#4a0808" stroke-width="0.9"/>
<circle cx="100" cy="108" r="10.3" fill="url(#gr)" stroke="#4a0808" stroke-width="0.9"/>
<circle cx="171.5" cy="108" r="10.3" fill="url(#gr)" stroke="#4a0808" stroke-width="0.9"/>
<circle cx="243.5" cy="108" r="10.3" fill="url(#gr)" stroke="#4a0808" stroke-width="0.9"/>
<circle cx="59" cy="142.5" r="10.3" fill="url(#gr)" stroke="#4a0808" stroke-width="0.9"/>
<circle cx="131" cy="142.5" r="10.3" fill="url(#gr)" stroke="#4a0808" stroke-width="0.9"/>
<circle cx="212" cy="142.5" r="10.3" fill="url(#gr)" stroke="#4a0808" stroke-width="0.9"/>
<circle cx="284" cy="142.8" r="10.3" fill="url(#gr)" stroke="#4a0808" stroke-width="0.9"/>
<circle cx="99.7" cy="176" r="10.3" fill="url(#gr)" stroke="#4a0808" stroke-width="0.9"/>
<circle cx="171.4" cy="176.2" r="10.3" fill="url(#gr)" stroke="#4a0808" stroke-width="0.9"/>
<circle cx="243.3" cy="176" r="10.3" fill="url(#gr)" stroke="#4a0808" stroke-width="0.9"/>
<circle cx="131" cy="211" r="10.3" fill="url(#gr)" stroke="#4a0808" stroke-width="0.9"/>
<circle cx="212.5" cy="211" r="10.3" fill="url(#gr)" stroke="#4a0808" stroke-width="0.9"/>
<circle cx="139" cy="109" r="12.7" fill="url(#gy)" stroke="#4a4208" stroke-width="0.8"/>
<circle cx="205" cy="108.5" r="12.7" fill="url(#gy)" stroke="#4a4208" stroke-width="0.8"/>
<circle cx="92.5" cy="143" r="12.7" fill="url(#gy)" stroke="#4a4208" stroke-width="0.8"/>
<circle cx="250.5" cy="143.5" r="12.7" fill="url(#gy)" stroke="#4a4208" stroke-width="0.8"/>
<circle cx="138" cy="177" r="12.7" fill="url(#gy)" stroke="#4a4208" stroke-width="0.8"/>
<circle cx="205" cy="177" r="12.7" fill="url(#gy)" stroke="#4a4208" stroke-width="0.8"/>
<circle cx="140" cy="102.5" r="10.8" fill="url(#gr)" stroke="#4a0808" stroke-width="0.9"/>
<circle cx="203.5" cy="102.5" r="10.8" fill="url(#gr)" stroke="#4a0808" stroke-width="0.9"/>
<circle cx="139" cy="171" r="10.8" fill="url(#gr)" stroke="#4a0808" stroke-width="0.9"/>
<circle cx="203.7" cy="171" r="10.8" fill="url(#gr)" stroke="#4a0808" stroke-width="0.9"/>
<circle cx="171.7" cy="137.3" r="17.6" fill="url(#gb)" stroke="#0a1040" stroke-width="0.8"/>
<line x1="104" y1="64" x2="129.7" y2="92.9" stroke="#000" stroke-width="2.4"/><polygon points="136.0,100.0 125.0,94.4 131.7,88.4" fill="#000"/>
<line x1="59" y1="102.5" x2="84.4" y2="129.1" stroke="#000" stroke-width="2.4"/><polygon points="91.0,136.0 79.8,130.8 86.3,124.6" fill="#000"/>
<line x1="167.5" y1="64" x2="170.2" y2="119.1" stroke="#000" stroke-width="2.4"/><polygon points="170.7,128.6 165.6,117.3 174.6,116.9" fill="#000"/>
<line x1="70" y1="175" x2="120.5" y2="149.7" stroke="#000" stroke-width="2.4"/><polygon points="129.0,145.5 120.7,154.7 116.7,146.6" fill="#000"/>
<line x1="167.5" y1="220" x2="170.2" y2="189.5" stroke="#000" stroke-width="2.4"/><polygon points="171.0,180.0 174.5,191.8 165.5,191.1" fill="#000"/>
<g font-size="21.6" fill="#000">
<text transform="translate(67.6,53.9) scale(0.975,1)">O(1)</text><text transform="translate(42,94.7) scale(0.975,1)">V(5)</text><text x="164" y="56.2" textLength="21.3" lengthAdjust="spacingAndGlyphs">Ca</text><text transform="translate(43.5,197.2) scale(0.975,1)">O(3)</text><text transform="translate(153.5,239.2) scale(0.975,1)">O(2)</text>
</g></g>
</svg>
</body></html>
